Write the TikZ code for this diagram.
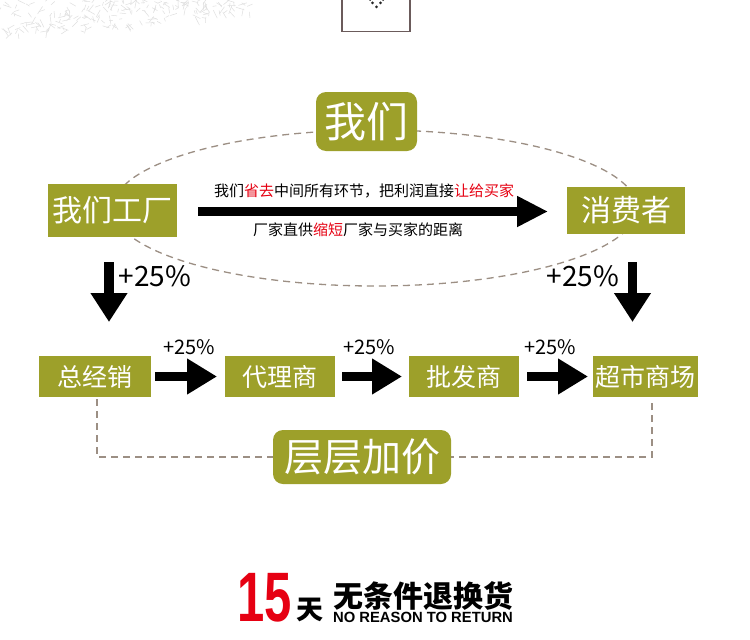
\documentclass[tikz,border=0pt]{standalone}
\usepackage{fontspec}
\usetikzlibrary{arrows.meta}
\setmainfont{Noto Sans CJK SC}
\newfontfamily\cjk{Noto Sans CJK SC}
\newfontfamily\lib{Liberation Sans}
\definecolor{boxolive}{HTML}{9DA02A}
\definecolor{tred}{HTML}{E60012}
\definecolor{dashc}{HTML}{9C8F84}
\definecolor{topbox}{HTML}{6B5B5B}
\begin{document}
\begin{tikzpicture}[x=1pt,y=-1pt,
  box/.style={fill=boxolive, text=white, inner sep=0pt, font=\cjk\fontsize{30}{30}\selectfont},
  rbox/.style={box, rounded corners=10pt},
  rowbox/.style={box, minimum height=41pt, font=\cjk\fontsize{25}{25}\selectfont},
  blockarrow/.style={line width=9.5pt, -{Triangle[length=30pt,width=34pt]}},
  dashline/.style={draw=dashc, line width=1.3pt, dash pattern=on 7pt off 5pt},
  pct/.style={font=\cjk\fontsize{28}{28}\selectfont, inner sep=0pt},
  spct/.style={font=\cjk\fontsize{20}{20}\selectfont, inner sep=0pt},
  note/.style={font=\cjk\fontsize{15}{15}\selectfont, inner sep=0pt}]
\fill[white] (0,0) rectangle (750,640);
\useasboundingbox (0,0) rectangle (750,640);
% faint sketch top left
\pgfmathsetseed{7}
\foreach \i in {1,...,220}{
  \pgfmathsetmacro\xx{rnd*250}
  \pgfmathsetmacro\yy{rnd*(40-\xx/9)}
  \pgfmathsetmacro\aa{rnd*360}
  \pgfmathsetmacro\ll{3+rnd*6}
  \draw[gray!25, line width=0.5pt] (\xx,\yy) -- ++(\aa:\ll);
}
% top box with dots
\draw[topbox, line width=1.2pt] (342,-5) rectangle (410,31.5);
\foreach \p in {(370,-0.5),(383,-0.5),(372.5,2.8),(380.5,2.8),(376.5,6.8)}
  \fill[black!85] \p circle (1.5pt);
% ellipse
\draw[dashline] (375,208) ellipse [x radius=262, y radius=78];
% dashed bracket
\coordinate (bl) at (97,399);
\coordinate (br) at (652,399);
\draw[dashline] (bl) -- (97,457) -- (652,457) -- (br);
% boxes
\node[rbox, minimum width=101pt, minimum height=59pt, font=\cjk\fontsize{42}{42}\selectfont] (wo) at (366.5,121.5) {我们};
\node[box, minimum width=129pt, minimum height=53pt] (fac) at (112.5,210) {我们工厂};
\node[box, minimum width=118pt, minimum height=47pt] (con) at (626,210.5) {消费者};
\node[rowbox, minimum width=112pt] (r1) at (95,376.5) {总经销};
\node[rowbox, minimum width=110pt] (r2) at (280,376.5) {代理商};
\node[rowbox, minimum width=110pt] (r3) at (464,376.5) {批发商};
\node[rowbox, minimum width=105pt] (r4) at (645.5,376.5) {超市商场};
\node[rbox, minimum width=178pt, minimum height=54pt, font=\cjk\fontsize{39}{39}\selectfont] (ceng) at (362,457) {层层加价};
% big arrow
\coordinate (ba1) at (198,211.5);
\coordinate (ba2) at (548,211.5);
\draw[blockarrow, -{Triangle[length=31pt,width=29pt]}] (ba1) -- (ba2);
\node[note] (s1) at (364,191) {我们\textcolor{tred}{省去}中间所有环节，把利润直接\textcolor{tred}{让给买家}};
\node[note] (s2) at (358,230) {厂家直供\textcolor{tred}{缩短}厂家与买家的距离};
% down arrows
\coordinate (dl1) at (109,262);
\coordinate (dl2) at (109,322);
\coordinate (dr1) at (632.5,262);
\coordinate (dr2) at (632.5,322);
\draw[blockarrow, -{Triangle[length=29pt,width=35pt]}] (dl1) -- (dl2);
\draw[blockarrow, -{Triangle[length=29pt,width=35pt]}] (dr1) -- (dr2);
\node[pct] (p1) at (155,276) {+25\%};
\node[pct] (p2) at (583,276) {+25\%};
% row arrows
\coordinate (a1s) at (155,376.5);
\coordinate (a1e) at (217,376.5);
\coordinate (a2s) at (342,376.5);
\coordinate (a2e) at (402,376.5);
\coordinate (a3s) at (527,376.5);
\coordinate (a3e) at (588,376.5);
\draw[blockarrow] (a1s) -- (a1e);
\draw[blockarrow] (a2s) -- (a2e);
\draw[blockarrow] (a3s) -- (a3e);
\node[spct] (q1) at (189,347) {+25\%};
\node[spct] (q2) at (369,347) {+25\%};
\node[spct] (q3) at (550,347) {+25\%};
% bottom slogan
\node[inner sep=0pt, text=tred, font=\lib\bfseries\fontsize{70}{70}\selectfont] (n15) at (264.5,597.5) {\scalebox{0.7}[1]{15}};
\node[inner sep=0pt, font=\cjk\bfseries\fontsize{27}{27}\selectfont] (tian) at (310,609.5) {天};
\node[inner sep=0pt, font=\cjk\bfseries\fontsize{30}{30}\selectfont] (wu) at (423,596) {无条件退换货};
\node[inner sep=0pt, font=\lib\bfseries\fontsize{14.8}{14.8}\selectfont] (nr) at (423,617.5) {NO REASON TO RETURN};
\end{tikzpicture}
\end{document}
